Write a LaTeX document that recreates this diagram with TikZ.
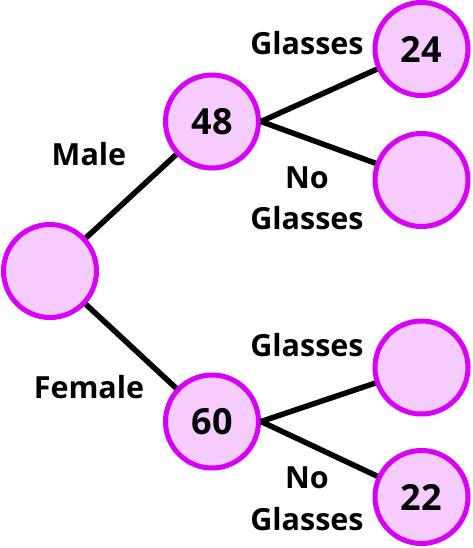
\documentclass[tikz,border=0pt]{standalone}
\usepackage{fontspec}
\setmainfont{Open Sans}
\definecolor{ringc}{RGB}{217,0,250}
\definecolor{fillc}{RGB}{246,204,255}
\begin{document}
\begin{tikzpicture}[x=1pt,y=-1pt,
  ball/.style={circle,draw=ringc,fill=fillc,line width=5pt,minimum size=93pt,inner sep=0pt,font=\fontsize{36}{40}\selectfont\bfseries},
  branch/.style={line width=5.5pt,black},
  lbl/.style={anchor=base,inner sep=0pt,font=\fontsize{30.5}{40}\selectfont\bfseries}]
\useasboundingbox (0,0) rectangle (472,548);
\node[ball] (root) at (50,271) {};
\node[ball] (m) at (212,121.5) {48};
\node[ball] (f) at (212,421.5) {60};
\node[ball] (mg) at (421.5,49) {24};
\node[ball] (mn) at (421.5,180) {};
\node[ball] (fg) at (421.5,367.5) {};
\node[ball] (fn) at (421.5,497) {22};
\draw[branch] (root) -- (m);
\draw[branch] (root) -- (f);
\draw[branch] (m.east) -- (mg);
\draw[branch] (m.east) -- (mn);
\draw[branch] (f.east) -- (fg);
\draw[branch] (f.east) -- (fn);
\node[lbl] (l1) at (307,55) {Glasses};
\node[lbl] (l2) at (89,166) {Male};
\node[lbl] (l3) at (307,188) {No};
\node[lbl] (l4) at (307,229) {Glasses};
\node[lbl] (l5) at (89,398) {Female};
\node[lbl] (l6) at (307,356) {Glasses};
\node[lbl] (l7) at (307,488) {No};
\node[lbl] (l8) at (307,530) {Glasses};
\end{tikzpicture}
\end{document}
